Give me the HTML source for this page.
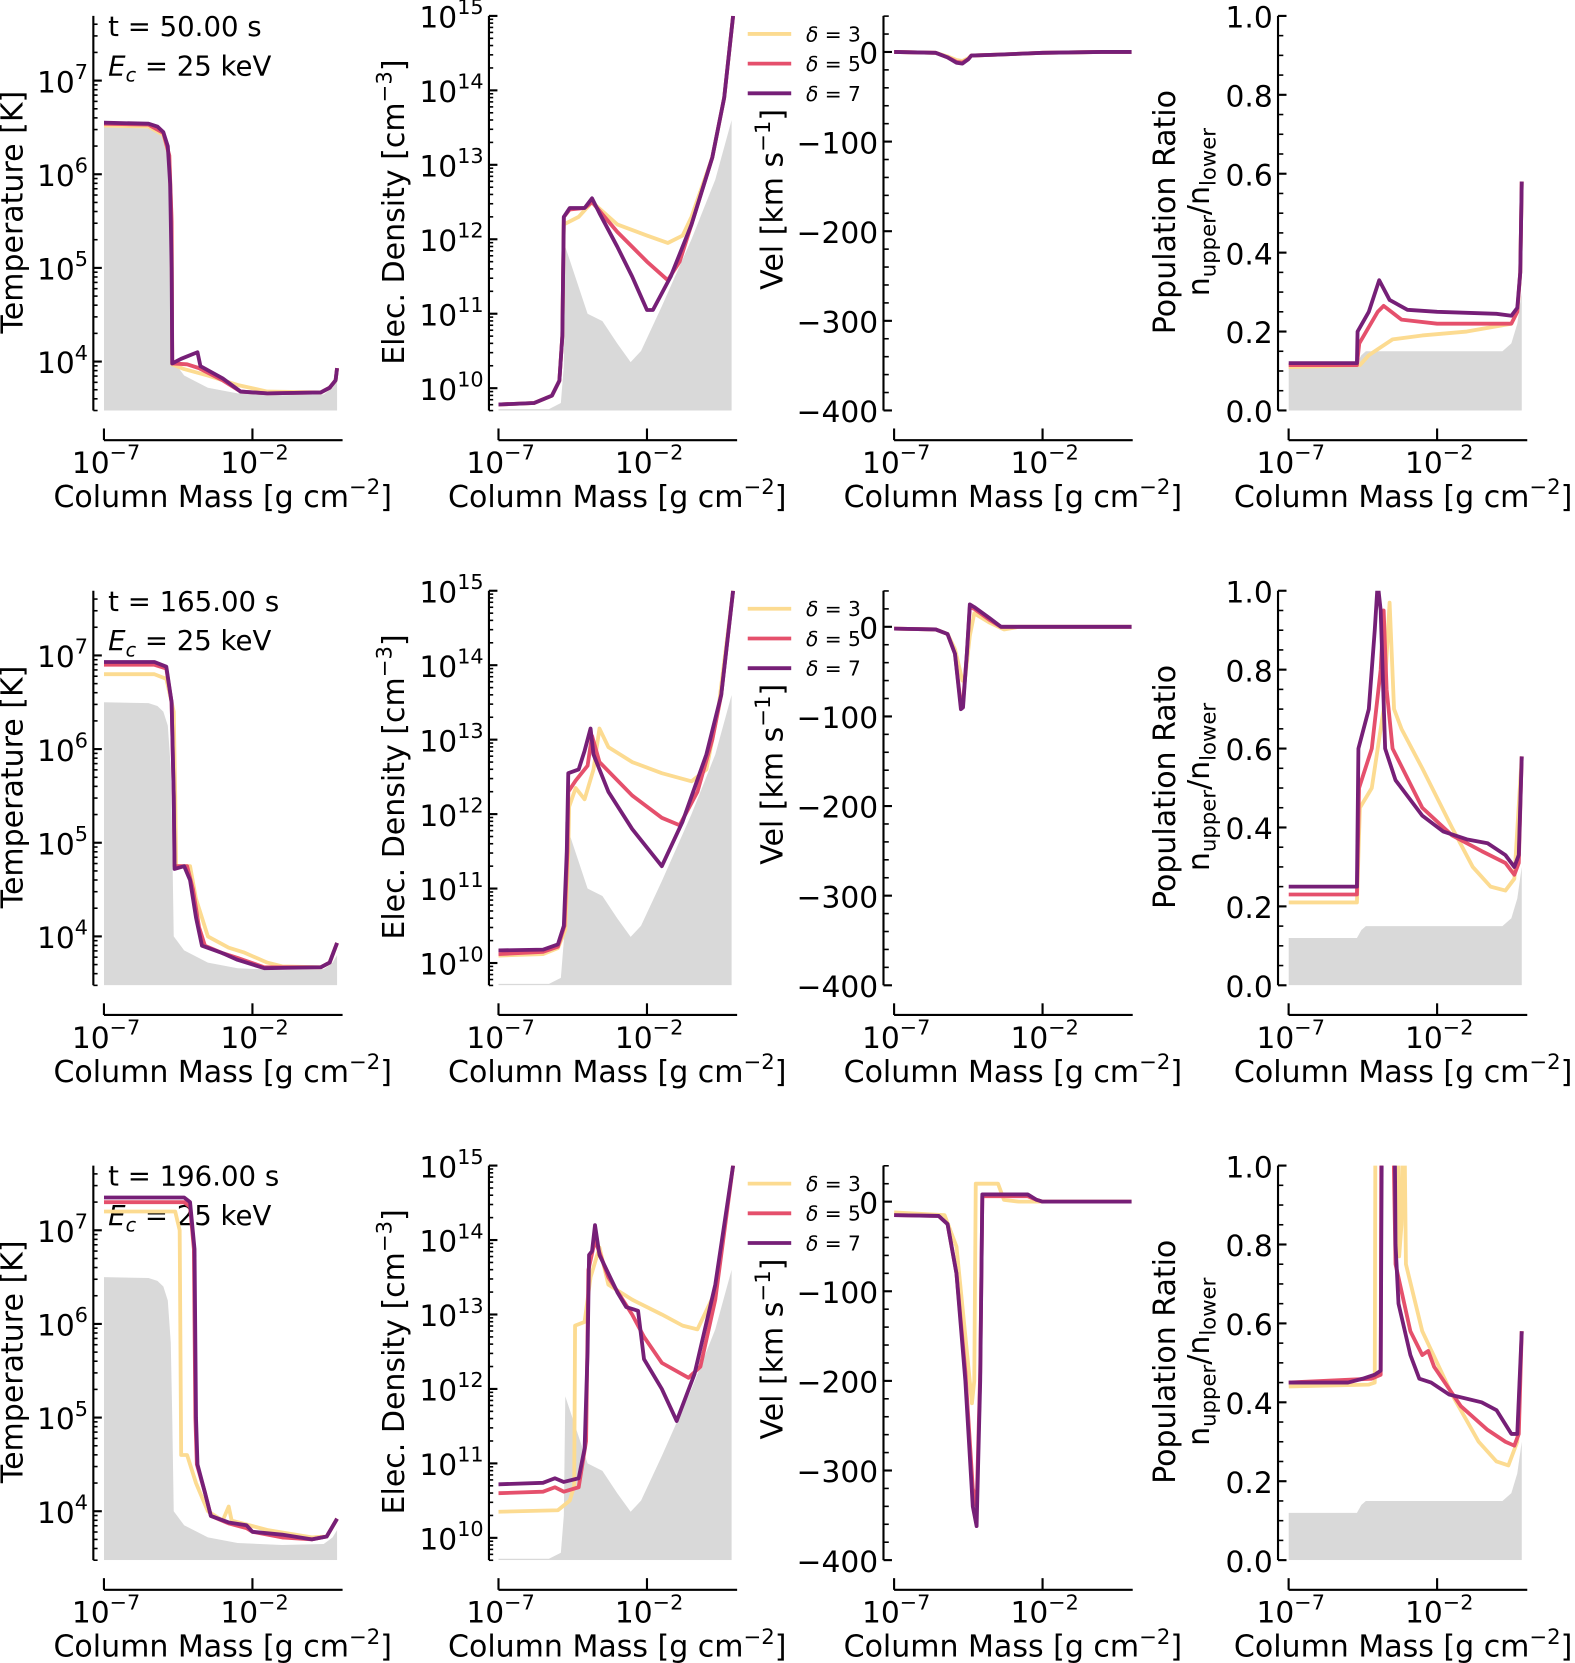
<!DOCTYPE html>
<html><head><meta charset="utf-8">
<style>
html,body{margin:0;padding:0;background:#fff;}
svg{display:block;}
text{font-family:"DejaVu Sans","Liberation Sans",sans-serif;fill:#000;}
</style></head>
<body>
<svg id="s" xmlns="http://www.w3.org/2000/svg" width="1575" height="1663" viewBox="0 0 1485 1568"></svg>
<script>
const S=document.getElementById('s');
let out='';
const YEL='#fcdb91',RED='#e5506c',PUR='#761f77',GREY='#d9d9d9';
const colL=[98,470,843,1215], spX=[88,461,833,1205];
const X=(c,lx)=>colL[c]+(lx+7)*28;
const Yf={
 T:v=>76-(v-7)*88.3,
 N:v=>15+(15-v)*70.2,
 V:v=>49-v*0.845,
 P:v=>387-v*372
};
const TF=28, LF=28.3;
function pts(c,r,t,a){return a.map(p=>X(c,p[0]).toFixed(1)+','+(Yf[t](p[1])+r*542).toFixed(1)).join(' ');}
function line(c,r,t,a,col){out+=`<polyline clip-path="url(#c${c}${r})" points="${pts(c,r,t,a)}" fill="none" stroke="${col}" stroke-width="3.6" stroke-linejoin="round" stroke-linecap="butt"/>`;}
function fill(c,r,t,a){const p=pts(c,r,t,a);const last=a[a.length-1][0],first=a[0][0];
 out+=`<polygon clip-path="url(#c${c}${r})" points="${p} ${X(c,last).toFixed(1)},${387+r*542} ${X(c,first).toFixed(1)},${387+r*542}" fill="${GREY}"/>`;}
out+='<defs>';
for(let c=0;c<4;c++)for(let r=0;r<3;r++)out+=`<clipPath id="c${c}${r}"><rect x="${colL[c]}" y="${15+r*542}" width="${224}" height="${372}"/></clipPath>`;
out+='</defs>';
function sup(b,e,fs){return `${b}<tspan font-size="${fs*0.7}" dy="-${fs*0.45}">${e}</tspan>`;}
for(let r=0;r<3;r++){
 const o=r*542;
 for(let c=0;c<4;c++){
  const sx=spX[c];
  out+=`<line x1="${sx}" y1="${15+o}" x2="${sx}" y2="${387+o}" stroke="#000" stroke-width="2"/>`;
  const xs=415+o;
  out+=`<line x1="${colL[c]}" y1="${xs}" x2="${colL[c]+225}" y2="${xs}" stroke="#000" stroke-width="2"/>`;
  [-7,-2].forEach(l=>{const x=X(c,l);out+=`<line x1="${x}" y1="${xs}" x2="${x}" y2="${xs-11}" stroke="#000" stroke-width="2"/>`;
   out+=`<text x="${x+2}" y="${xs+31}" font-size="${TF}" text-anchor="middle">${sup('10','−'+(-l),TF)}</text>`;});
  out+=`<text x="${colL[c]+(c==3?108:112)}" y="${o+478}" font-size="${LF}" text-anchor="middle">Column Mass [g cm<tspan font-size="20" dy="-12">−2</tspan><tspan dy="12">]</tspan></text>`;
  const tk=(y,len)=>{out+=`<line x1="${sx}" y1="${y}" x2="${sx+len}" y2="${y}" stroke="#000" stroke-width="${len>6?2:1.5}"/>`;};
  if(c<2){
   const t=c==0?'T':'N', lo=c==0?3:9, hi=c==0?8:15;
   for(let d=lo;d<hi;d++)for(let m=1;m<10;m++){const y=Yf[t](d+Math.log10(m))+o;if(y<15+o-0.5||y>387+o+0.5)continue;tk(y,m==1?8:4);
     if(m==1){out+=`<text x="${sx-5}" y="${y+11}" font-size="${TF}" text-anchor="end">${sup('10',d,TF)}</text>`;}}
   if(c==1){const y=Yf.N(15)+o;tk(y,8);out+=`<text x="${sx-5}" y="${y+11}" font-size="${TF}" text-anchor="end">${sup('10',15,TF)}</text>`;}
  } else if(c==2){
   for(let v=40;v>=-400;v-=20){const y=Yf.V(v)+o;tk(y,v%100==0?8:5);
    if(v%100==0)out+=`<text x="${sx-5}" y="${y+11}" font-size="${TF}" text-anchor="end">${v==0?'0':'−'+(-v)}</text>`;}
  } else {
   for(let i=0;i<=20;i++){const v=i*0.05,y=Yf.P(v)+o;tk(y,i%4==0?8:5);
    if(i%4==0)out+=`<text x="${sx-5}" y="${y+11}" font-size="${TF}" text-anchor="end">${v.toFixed(1)}</text>`;}
  }
 }
 out+=`<text transform="translate(21,${200+o}) rotate(-90)" font-size="${LF}" text-anchor="middle">Temperature [K]</text>`;
 out+=`<text transform="translate(381,${200+o}) rotate(-90)" font-size="${LF}" text-anchor="middle">Elec. Density [cm<tspan font-size="20" dy="-12">−3</tspan><tspan dy="12">]</tspan></text>`;
 out+=`<text transform="translate(738,${188+o}) rotate(-90)" font-size="${LF}" text-anchor="middle">Vel [km s<tspan font-size="20" dy="-12">−1</tspan><tspan dy="12">]</tspan></text>`;
 out+=`<text transform="translate(1108,${200+o}) rotate(-90)" font-size="${LF}" text-anchor="middle">Population Ratio</text>`;
 out+=`<text transform="translate(1140,${200+o}) rotate(-90)" font-size="${LF}" text-anchor="middle">n<tspan font-size="20" dy="6">upper</tspan><tspan dy="-6">/n</tspan><tspan font-size="20" dy="6">lower</tspan></text>`;
 [[YEL,'3'],[RED,'5'],[PUR,'7']].forEach((l,i)=>{const y=32+i*28+o;
  out+=`<line x1="705" y1="${y}" x2="746" y2="${y}" stroke="${l[0]}" stroke-width="3.6"/>`;
  out+=`<text x="760" y="${y+7}" font-size="19"><tspan font-style="italic">δ</tspan> = ${l[1]}</text>`;});
 const ts=['50.00','165.00','196.00'][r];
 out+=`<text x="102" y="${34+o}" font-size="26">t = ${ts} s</text>`;
 out+=`<text x="102" y="${71+o}" font-size="26"><tspan font-style="italic">E</tspan><tspan font-size="18" font-style="italic" dy="6">c</tspan><tspan dy="-6"> = 25 keV</tspan></text>`;
}
const Tg=[[-7,6.5],[-5.5,6.49],[-5.2,6.46],[-5.0,6.4],[-4.85,6.25],[-4.75,5.8],[-4.7,5.0],[-4.65,4.0],[-4.3,3.85],[-3.5,3.72],[-2.5,3.66],[-1,3.64],[0.4,3.65],[0.7,3.72],[0.85,3.8]];
const Ng=[[-7,9.72],[-5.3,9.72],[-4.9,9.8],[-4.8,10.3],[-4.75,11.9],[-4.5,11.6],[-4.0,11.0],[-3.5,10.9],[-3.0,10.6],[-2.55,10.35],[-2.2,10.5],[-1.5,11.1],[-0.5,12.0],[0.3,12.8],[0.85,13.6]];
const Pg=[[-7,0.12],[-4.7,0.12],[-4.55,0.14],[-4.4,0.15],[0.2,0.15],[0.5,0.17],[0.7,0.22],[0.85,0.3]];
for(let r=0;r<3;r++){fill(0,r,'T',Tg);fill(1,r,'N',Ng);fill(3,r,'P',Pg);}
const D={
T:[
 [[[-7,6.52],[-5.5,6.51],[-5.0,6.42],[-4.8,6.2],[-4.72,5.5],[-4.7,3.97],[-4.3,3.92],[-3.5,3.85],[-2.5,3.75],[-1.5,3.68],[0.3,3.67],[0.6,3.72],[0.8,3.8],[0.85,3.93]],
  [[-7,6.54],[-5.5,6.53],[-5.0,6.44],[-4.8,6.2],[-4.72,5.5],[-4.7,3.98],[-4.2,3.97],[-3.8,3.93],[-3.0,3.8],[-2.4,3.68],[-1.5,3.66],[0.3,3.67],[0.6,3.72],[0.8,3.8],[0.85,3.93]],
  [[-7,6.55],[-5.5,6.54],[-5.2,6.51],[-5.0,6.45],[-4.85,6.3],[-4.77,5.9],[-4.72,5.0],[-4.7,3.98],[-4.4,4.03],[-4.0,4.08],[-3.85,4.1],[-3.75,3.95],[-3.0,3.82],[-2.4,3.68],[-1.5,3.66],[0.3,3.67],[0.6,3.72],[0.8,3.8],[0.85,3.93]]],
 [[[-7,6.8],[-5.3,6.8],[-4.9,6.75],[-4.65,6.4],[-4.6,5.5],[-4.57,4.75],[-4.1,4.75],[-3.9,4.4],[-3.5,4.0],[-2.8,3.88],[-2.3,3.83],[-1.5,3.72],[-1,3.68],[0.3,3.67],[0.6,3.72],[0.85,3.93]],
  [[-7,6.9],[-5.3,6.9],[-4.9,6.86],[-4.72,6.5],[-4.65,5.5],[-4.62,4.75],[-4.2,4.75],[-4.0,4.5],[-3.8,4.1],[-3.6,3.9],[-3.0,3.82],[-2.5,3.77],[-1.6,3.67],[0.3,3.67],[0.6,3.72],[0.85,3.93]],
  [[-7,6.93],[-5.3,6.93],[-4.9,6.88],[-4.72,6.5],[-4.65,5.5],[-4.62,4.72],[-4.3,4.75],[-4.1,4.6],[-3.9,4.2],[-3.7,3.9],[-3.0,3.82],[-2.5,3.75],[-1.6,3.66],[0.3,3.67],[0.6,3.72],[0.85,3.93]]],
 [[[-7,7.2],[-4.6,7.2],[-4.45,7.0],[-4.4,4.6],[-4.2,4.6],[-3.9,4.3],[-3.5,4.0],[-3.0,3.9],[-2.8,4.05],[-2.7,3.9],[-1.5,3.8],[0,3.72],[0.5,3.73],[0.85,3.92]],
  [[-7,7.3],[-4.3,7.3],[-4.1,7.25],[-3.97,6.8],[-3.92,5.0],[-3.87,4.5],[-3.6,4.2],[-3.4,3.95],[-2.8,3.87],[-2.2,3.82],[-2.0,3.78],[-1,3.72],[0,3.7],[0.5,3.73],[0.85,3.92]],
  [[-7,7.35],[-4.3,7.35],[-4.1,7.3],[-3.95,6.8],[-3.9,5.0],[-3.85,4.5],[-3.6,4.2],[-3.4,3.95],[-2.8,3.88],[-2.2,3.85],[-2.0,3.78],[-1,3.75],[0,3.7],[0.5,3.73],[0.85,3.92]]]],
N:[
 [[[-7,9.78],[-5.8,9.8],[-5.2,9.9],[-4.95,10.1],[-4.85,10.7],[-4.8,12.2],[-4.3,12.3],[-3.85,12.5],[-3.0,12.2],[-2.0,12.05],[-1.3,11.95],[-0.8,12.05],[-0.5,12.3],[0.2,13.1],[0.6,13.9],[0.9,15.0]],
  [[-7,9.78],[-5.8,9.8],[-5.2,9.9],[-4.95,10.1],[-4.85,10.7],[-4.8,12.3],[-4.6,12.4],[-4.1,12.42],[-3.85,12.5],[-3.0,12.1],[-2.0,11.7],[-1.3,11.45],[-0.9,11.7],[-0.5,12.2],[0.2,13.1],[0.6,13.9],[0.9,15.0]],
  [[-7,9.78],[-5.8,9.8],[-5.2,9.9],[-4.95,10.1],[-4.85,10.7],[-4.8,12.3],[-4.6,12.42],[-4.1,12.42],[-3.85,12.55],[-3.6,12.35],[-3.0,11.9],[-2.5,11.5],[-2.0,11.05],[-1.8,11.05],[-1.2,11.5],[-0.5,12.2],[0.2,13.1],[0.6,13.9],[0.9,15.0]]],
 [[[-7,10.1],[-5.5,10.12],[-5.0,10.2],[-4.75,10.45],[-4.65,11.5],[-4.62,12.1],[-4.4,12.35],[-4.1,12.2],[-3.8,12.6],[-3.6,13.15],[-3.3,12.9],[-2.5,12.7],[-1.5,12.55],[-0.5,12.44],[0,12.6],[0.4,13.4],[0.9,15]],
  [[-7,10.12],[-5.5,10.15],[-5.0,10.22],[-4.78,10.5],[-4.68,11.5],[-4.65,12.3],[-4.4,12.45],[-4.0,12.65],[-3.85,13.05],[-3.6,12.7],[-2.5,12.25],[-1.5,11.95],[-0.9,11.85],[-0.3,12.3],[0.2,13.0],[0.5,13.6],[0.9,15]],
  [[-7,10.17],[-5.5,10.18],[-5.0,10.25],[-4.8,10.5],[-4.7,11.5],[-4.65,12.55],[-4.3,12.6],[-4.1,12.85],[-3.9,13.15],[-3.8,12.8],[-3.3,12.3],[-2.5,11.8],[-1.5,11.3],[-0.8,11.9],[0,12.8],[0.5,13.6],[0.9,15]]],
 [[[-7,10.35],[-5,10.37],[-4.6,10.5],[-4.45,10.7],[-4.42,12.85],[-4.1,12.9],[-3.9,13.5],[-3.6,13.9],[-3.3,13.4],[-2.5,13.2],[-1.5,13.0],[-0.8,12.85],[-0.3,12.8],[0.3,13.3],[0.9,15]],
  [[-7,10.6],[-5.5,10.62],[-5.1,10.68],[-4.8,10.62],[-4.3,10.68],[-4.05,11.3],[-3.97,13.6],[-3.75,14.0],[-3.3,13.5],[-2.5,13.0],[-2.1,12.7],[-1.5,12.35],[-0.6,12.15],[-0.2,12.3],[0.3,13.2],[0.9,15]],
  [[-7,10.72],[-5.5,10.74],[-5.1,10.8],[-4.8,10.75],[-4.3,10.8],[-4.1,11.2],[-4.0,12.5],[-3.95,13.8],[-3.85,13.85],[-3.75,14.2],[-3.6,13.8],[-3.0,13.3],[-2.7,13.1],[-2.3,13.05],[-2.1,12.4],[-1.5,12.0],[-1.0,11.57],[-0.4,12.2],[0.3,13.4],[0.9,15]]]],
V:[
 [[[-7,0],[-5.6,-1],[-5.2,-5],[-4.9,-9],[-4.7,-10],[-4.5,-7],[-4.4,-4],[-3.5,-3],[-2,-1],[0,0],[1,0]],
  [[-7,0],[-5.6,-1],[-5.2,-6],[-4.9,-11],[-4.7,-12],[-4.5,-8],[-4.4,-4],[-3.5,-3],[-2,-1],[0,0],[1,0]],
  [[-7,0],[-5.6,-1],[-5.2,-6],[-4.9,-12],[-4.7,-13],[-4.5,-8],[-4.4,-4],[-3.5,-3],[-2,-1],[0,0],[1,0]]],
 [[[-7,-2],[-5.6,-3],[-5.2,-8],[-4.95,-25],[-4.7,-60],[-4.6,-55],[-4.45,-10],[-4.3,15],[-3.8,5],[-3.3,-3],[-2.8,0],[1,0]],
  [[-7,-2],[-5.6,-3],[-5.2,-8],[-4.95,-30],[-4.75,-88],[-4.68,-85],[-4.55,-30],[-4.45,22],[-4.3,20],[-3.8,8],[-3.4,0],[1,0]],
  [[-7,-2],[-5.6,-3],[-5.2,-8],[-4.95,-30],[-4.75,-92],[-4.68,-90],[-4.55,-30],[-4.45,25],[-4.3,22],[-3.8,10],[-3.4,0],[1,0]]],
 [[[-7,-12],[-5.3,-15],[-4.9,-50],[-4.6,-150],[-4.38,-225],[-4.3,-200],[-4.25,20],[-3.5,20],[-3.3,2],[-2.8,0],[1,0]],
  [[-7,-15],[-5.5,-16],[-5.2,-25],[-4.9,-80],[-4.6,-190],[-4.35,-320],[-4.22,-340],[-4.1,-190],[-4.03,6],[-2.5,6],[-2.2,2],[-2,0],[1,0]],
  [[-7,-15],[-5.5,-16],[-5.2,-25],[-4.9,-80],[-4.6,-200],[-4.35,-340],[-4.22,-362],[-4.1,-200],[-4.03,8],[-2.5,8],[-2.2,2],[-2,0],[1,0]]]]
};
const P=[
 [[[-7,0.11],[-4.6,0.115],[-4.3,0.14],[-3.5,0.18],[-2.5,0.19],[-1,0.2],[0.5,0.22],[0.7,0.25],[0.8,0.35],[0.85,0.58]],
  [[-7,0.115],[-4.7,0.115],[-4.62,0.17],[-4.0,0.25],[-3.8,0.265],[-3.2,0.23],[-2,0.22],[0.5,0.22],[0.7,0.25],[0.8,0.35],[0.85,0.58]],
  [[-7,0.12],[-4.7,0.12],[-4.68,0.2],[-4.3,0.25],[-3.95,0.33],[-3.6,0.28],[-3.0,0.255],[-2,0.25],[0,0.245],[0.5,0.24],[0.7,0.26],[0.8,0.35],[0.85,0.58]]],
 [[[-7,0.21],[-4.7,0.21],[-4.6,0.45],[-4.2,0.5],[-3.8,0.7],[-3.6,0.97],[-3.45,0.7],[-3.2,0.65],[-2.5,0.55],[-1.5,0.4],[-0.8,0.3],[-0.2,0.25],[0.3,0.24],[0.6,0.27],[0.85,0.58]],
  [[-7,0.23],[-4.7,0.23],[-4.63,0.5],[-4.2,0.6],[-3.9,0.8],[-3.8,0.95],[-3.7,0.75],[-3.5,0.6],[-2.5,0.45],[-1.5,0.38],[-0.5,0.34],[0.3,0.31],[0.6,0.28],[0.75,0.31],[0.85,0.58]],
  [[-7,0.25],[-4.7,0.25],[-4.65,0.6],[-4.3,0.7],[-4.1,0.9],[-4.0,1.02],[-3.9,0.95],[-3.75,0.6],[-3.4,0.52],[-2.5,0.43],[-1.8,0.39],[-1,0.37],[-0.3,0.36],[0.3,0.33],[0.6,0.3],[0.75,0.33],[0.85,0.58]]],
 [[[-7,0.44],[-4.3,0.445],[-4.1,0.45],[-4.08,1.1],[-3.3,1.1],[-3.28,0.77],[-3.2,0.85],[-3.12,1.1],[-3.1,1.1],[-3.05,0.75],[-2.5,0.58],[-1.5,0.42],[-0.6,0.3],[0,0.25],[0.4,0.24],[0.7,0.3],[0.85,0.58]],
  [[-7,0.45],[-4.2,0.46],[-3.9,0.47],[-3.88,1.1],[-3.48,1.1],[-3.4,0.75],[-2.9,0.58],[-2.5,0.52],[-2.3,0.53],[-2.1,0.49],[-1.2,0.39],[-0.3,0.33],[0.3,0.3],[0.6,0.29],[0.75,0.32],[0.85,0.58]],
  [[-7,0.45],[-5,0.45],[-4.5,0.46],[-4.1,0.47],[-3.9,0.48],[-3.86,1.1],[-3.43,1.1],[-3.4,0.8],[-3.3,0.65],[-2.9,0.52],[-2.6,0.46],[-2.2,0.45],[-1.6,0.42],[-0.5,0.40],[0,0.38],[0.5,0.32],[0.7,0.32],[0.85,0.58]]]];
const cols=[YEL,RED,PUR];
for(let r=0;r<3;r++)for(let k=0;k<3;k++){
 line(0,r,'T',D.T[r][k],cols[k]);
 line(1,r,'N',D.N[r][k],cols[k]);
 line(2,r,'V',D.V[r][k],cols[k]);
 line(3,r,'P',P[r][k],cols[k]);
}
S.innerHTML=out;
</script>
</body></html>
